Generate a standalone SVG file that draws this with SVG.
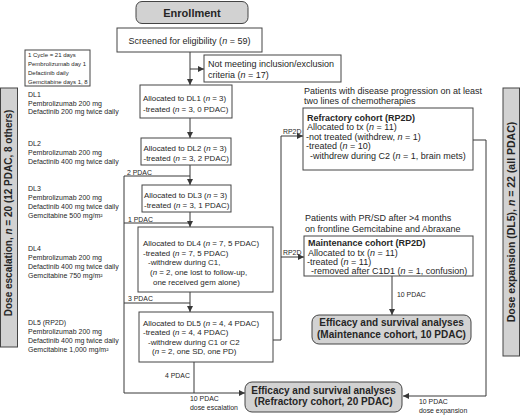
<svg xmlns="http://www.w3.org/2000/svg" width="520" height="415" viewBox="0 0 520 415">
<defs>
<style>
.t{font-family:"Liberation Sans",Arial,sans-serif;font-size:7.9px;fill:#262626}
.m{font-size:9px}
.s{font-size:7px}
.xs{font-size:6.9px}
.ci{font-size:6px}
.b{font-weight:bold}
.i{font-style:italic}
.box{fill:#fff;stroke:#444;stroke-width:1}
.gbox{fill:#d2d2d2;stroke:#444;stroke-width:1}
.ln{fill:none;stroke:#383838;stroke-width:1}
</style>
<marker id="ah" markerUnits="userSpaceOnUse" markerWidth="6" markerHeight="6" refX="6" refY="3" orient="auto">
<path d="M0,0 L6,3 L0,6 z" fill="#383838"/>
</marker>
</defs>
<rect width="520" height="415" fill="#fff"/>

<g id="connectors">
<path class="ln" d="M190,52 V85" marker-end="url(#ah)"/>
<path class="ln" d="M190,69 H204" marker-end="url(#ah)"/>
<path class="ln" d="M190,118 V138" marker-end="url(#ah)"/>
<path class="ln" d="M190,165 V185" marker-end="url(#ah)"/>
<path class="ln" d="M190,212 V227" marker-end="url(#ah)"/>
<path class="ln" d="M190,292 V312" marker-end="url(#ah)"/>
<path class="ln" d="M190,176 H124"/>
<path class="ln" d="M190,223 H124"/>
<path class="ln" d="M190,303 H124"/>
<path class="ln" d="M124,176 V393 H245" marker-end="url(#ah)"/>
<path class="ln" d="M194,362 V393"/>
<path class="ln" d="M273,340 H281 V136 H303" marker-end="url(#ah)"/>
<path class="ln" d="M281,257 H304" marker-end="url(#ah)"/>
<path class="ln" d="M392,276 V315" marker-end="url(#ah)"/>
<path class="ln" d="M473,140 H486 V396 H403" marker-end="url(#ah)"/>
<text class="t xs" x="127" y="174.5">2 PDAC</text>
<text class="t xs" x="128" y="221.5">1 PDAC</text>
<text class="t xs" x="128" y="301">3 PDAC</text>
<text class="t xs" x="165" y="377.5">4 PDAC</text>
<text class="t xs" x="190" y="400.5">10 PDAC</text>
<text class="t xs" x="190" y="410">dose escalation</text>
<text class="t xs" x="283" y="133.5">RP2D</text>
<text class="t xs" x="283" y="254.5">RP2D</text>
<text class="t xs" x="397" y="296.5">10 PDAC</text>
<text class="t xs" x="419" y="403.5">10 PDAC</text>
<text class="t xs" x="419" y="412.5">dose expansion</text>
</g>

<g id="enrollment">
<rect class="gbox" x="136" y="1.5" width="112" height="22" rx="6"/>
<text class="t b" style="font-size:11px" x="192" y="16.5" text-anchor="middle">Enrollment</text>
</g>

<g id="screened">
<rect class="box" x="117" y="28" width="145" height="24"/>
<text class="t m" x="189.5" y="44" text-anchor="middle">Screened for eligibility (<tspan class="i">n</tspan> = 59)</text>
</g>

<g id="excluded">
<rect class="box" x="204" y="55" width="137" height="27"/>
<text class="t m" x="208" y="67">Not meeting inclusion/exclusion</text>
<text class="t m" x="208" y="78">criteria (<tspan class="i">n</tspan> = 17)</text>
</g>

<g id="cycle-info">
<rect class="box" x="25" y="50" width="65" height="36"/>
<text class="t ci" x="28" y="57">1 Cycle = 21 days</text>
<text class="t ci" x="28" y="66">Pembrolizumab day 1</text>
<text class="t ci" x="28" y="75">Defactinib daily</text>
<text class="t ci" x="28" y="84">Gemcitabine days 1, 8</text>
</g>

<g id="dl-labels">
<text class="t s" x="28" y="97">DL1</text>
<text class="t s" x="28" y="105.5">Pembrolizumab 200 mg</text>
<text class="t s" x="28" y="114">Defactinib 200 mg twice daily</text>
<text class="t s" x="28" y="146">DL2</text>
<text class="t s" x="28" y="155">Pembrolizumab 200 mg</text>
<text class="t s" x="28" y="164">Defactinib 400 mg twice daily</text>
<text class="t s" x="28" y="191">DL3</text>
<text class="t s" x="28" y="200">Pembrolizumab 200 mg</text>
<text class="t s" x="28" y="209">Defactinib 400 mg twice daily</text>
<text class="t s" x="28" y="218">Gemcitabine 500 mg/m²</text>
<text class="t s" x="28" y="251">DL4</text>
<text class="t s" x="28" y="260">Pembrolizumab 200 mg</text>
<text class="t s" x="28" y="269">Defactinib 400 mg twice daily</text>
<text class="t s" x="28" y="278">Gemcitabine 750 mg/m²</text>
<text class="t s" x="28" y="325">DL5 (RP2D)</text>
<text class="t s" x="28" y="334">Pembrolizumab 200 mg</text>
<text class="t s" x="28" y="343">Defactinib 400 mg twice daily</text>
<text class="t s" x="28" y="352">Gemcitabine 1,000 mg/m²</text>
</g>

<g id="dl1">
<rect class="box" x="140" y="85" width="92" height="33"/>
<text class="t" x="143" y="101">Allocated to DL1 (<tspan class="i">n</tspan> = 3)</text>
<text class="t" x="143" y="111.5">-treated (<tspan class="i">n</tspan> = 3, 0 PDAC)</text>
</g>

<g id="dl2">
<rect class="box" x="141" y="138" width="90" height="27"/>
<text class="t" x="143.5" y="150.5">Allocated to DL2 (<tspan class="i">n</tspan> = 3)</text>
<text class="t" x="143.5" y="160.5">-treated (<tspan class="i">n</tspan> = 3, 2 PDAC)</text>
</g>

<g id="dl3">
<rect class="box" x="142" y="185" width="89" height="27"/>
<text class="t" x="144" y="197.5">Allocated to DL3 (<tspan class="i">n</tspan> = 3)</text>
<text class="t" x="144" y="207.5">-treated (<tspan class="i">n</tspan> = 3, 1 PDAC)</text>
</g>

<g id="dl4">
<rect class="box" x="138" y="227" width="135" height="65"/>
<text class="t" x="143" y="246">Allocated to DL4 (<tspan class="i">n</tspan> = 7, 5 PDAC)</text>
<text class="t" x="143" y="255.7">-treated (<tspan class="i">n</tspan> = 7, 5 PDAC)</text>
<text class="t" x="148" y="265.4">-withdrew during C1,</text>
<text class="t" x="150" y="275.1">(<tspan class="i">n</tspan> = 2, one lost to follow-up,</text>
<text class="t" x="153" y="284.8">one received gem alone)</text>
</g>

<g id="dl5">
<rect class="box" x="139" y="312" width="134" height="50"/>
<text class="t" x="143" y="325.5">Allocated to DL5 (<tspan class="i">n</tspan> = 4, 4 PDAC)</text>
<text class="t" x="143" y="335">-treated (<tspan class="i">n</tspan> = 4, 4 PDAC)</text>
<text class="t" x="148" y="344.5">-withdrew during C1 or C2</text>
<text class="t" x="152" y="354">(<tspan class="i">n</tspan> = 2, one SD, one PD)</text>
</g>

<g id="refractory">
<text class="t m" x="304" y="94">Patients with disease progression on at least</text>
<text class="t m" x="304" y="103.5">two lines of chemotherapies</text>
<rect class="box" x="303" y="108" width="170" height="62"/>
<text class="t m b" x="307" y="120.5">Refractory cohort (RP2D)</text>
<text class="t m" x="307" y="130">Allocated to tx (<tspan class="i">n</tspan> = 11)</text>
<text class="t m" x="306" y="139.5">-not treated (withdrew, <tspan class="i">n</tspan> = 1)</text>
<text class="t m" x="306" y="149">-treated (<tspan class="i">n</tspan> = 10)</text>
<text class="t m" x="310" y="158.5">-withdrew during C2 (<tspan class="i">n</tspan> = 1, brain mets)</text>
</g>

<g id="maintenance">
<text class="t m" x="305" y="221">Patients with PR/SD after &gt;4 months</text>
<text class="t m" x="305" y="232">on frontline Gemcitabine and Abraxane</text>
<rect class="box" x="304" y="236" width="169" height="40"/>
<text class="t m b" x="308" y="246">Maintenance cohort (RP2D)</text>
<text class="t m" x="308" y="255.5">Allocated to tx (<tspan class="i">n</tspan> = 11)</text>
<text class="t m" x="307" y="265">-treated (<tspan class="i">n</tspan> = 11)</text>
<text class="t m" x="311" y="274">-removed after C1D1 (<tspan class="i">n</tspan> = 1, confusion)</text>
</g>

<g id="efficacy-maintenance">
<rect class="gbox" x="312" y="315" width="159" height="29" rx="7"/>
<text class="t b" style="font-size:10px" x="391.5" y="326" text-anchor="middle">Efficacy and survival analyses</text>
<text class="t b" style="font-size:10px" x="391.5" y="337.5" text-anchor="middle">(Maintenance cohort, 10 PDAC)</text>
</g>

<g id="efficacy-refractory">
<rect class="gbox" x="245" y="382" width="157" height="30" rx="7"/>
<text class="t b" style="font-size:10px" x="323.5" y="393.5" text-anchor="middle">Efficacy and survival analyses</text>
<text class="t b" style="font-size:10px" x="323.5" y="405" text-anchor="middle">(Refractory cohort, 20 PDAC)</text>
</g>

<g id="bar-escalation">
<rect class="gbox" x="0.5" y="88" width="17" height="259"/>
<text class="t b" style="font-size:10px" transform="translate(12.3,213) rotate(-90)" text-anchor="middle">Dose escalation, <tspan class="i">n</tspan> = 20 (12 PDAC, 8 others)</text>
</g>

<g id="bar-expansion">
<rect class="gbox" x="503" y="88" width="16.5" height="268"/>
<text class="t b" style="font-size:10.5px" transform="translate(514.8,222) rotate(-90)" text-anchor="middle">Dose expansion (DL5), <tspan class="i">n</tspan> = 22 (all PDAC)</text>
</g>
</svg>
